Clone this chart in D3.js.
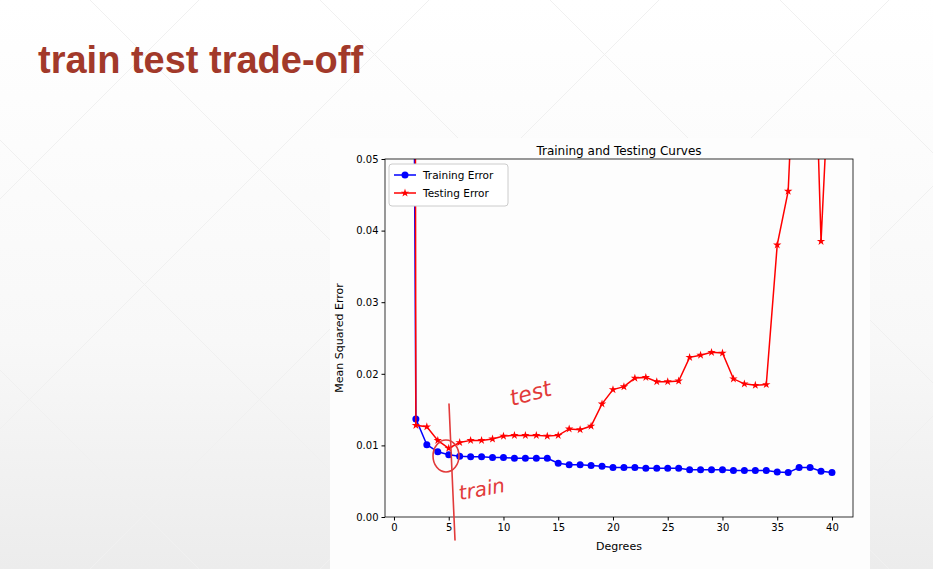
<!DOCTYPE html>
<html><head><meta charset="utf-8">
<script src="https://cdn.jsdelivr.net/npm/d3@7"></script>
<style>body{margin:0;background:#fff}</style>
</head><body>
<svg id="c" width="933" height="569"></svg>
<script>
// data
const degrees = d3.range(1, 41);
const trainErr = [0.3, 0.0137, 0.0101, 0.0091, 0.0087, 0.0085, 0.0084, 0.0084, 0.0083, 0.0083,
  0.0082, 0.0082, 0.0082, 0.0082, 0.0075, 0.0073, 0.0073, 0.0072, 0.0071, 0.0069,
  0.0069, 0.0069, 0.0068, 0.0068, 0.0068, 0.0068, 0.0066, 0.0066, 0.0066, 0.0066,
  0.0065, 0.0065, 0.0065, 0.0065, 0.0063, 0.0062, 0.0069, 0.0069, 0.0064, 0.0062];
const testErr = [1.0, 0.0128, 0.0126, 0.0107, 0.0096, 0.0104, 0.0107, 0.0107, 0.0109, 0.0113,
  0.0114, 0.0114, 0.0114, 0.0113, 0.0114, 0.0123, 0.0122, 0.0127, 0.0158, 0.0178,
  0.0182, 0.0194, 0.0195, 0.0189, 0.0189, 0.0190, 0.0223, 0.0226, 0.0230, 0.0229,
  0.0193, 0.0186, 0.0184, 0.0185, 0.0380, 0.0455, 0.08, 0.09, 0.0385, 0.07];
const xTicks = [0, 5, 10, 15, 20, 25, 30, 35, 40];
const yTicks = [0, 0.01, 0.02, 0.03, 0.04, 0.05];

const svg = d3.select("#c");
const defs = svg.append("defs");
const grad = defs.append("linearGradient").attr("id", "bg").attr("x1", 0).attr("y1", 0).attr("x2", 0).attr("y2", 1);
grad.append("stop").attr("offset", "0").attr("stop-color", "#ffffff");
grad.append("stop").attr("offset", "0.6").attr("stop-color", "#f8f8f8");
grad.append("stop").attr("offset", "1").attr("stop-color", "#ececec");
svg.append("rect").attr("width", 933).attr("height", 569).attr("fill", "url(#bg)");

// faint diagonal pattern
const bgLines = svg.append("g").attr("stroke", "#f0f0f0").attr("stroke-width", 1);
for (let k = -600; k < 1400; k += 230) {
  bgLines.append("line").attr("x1", k).attr("y1", 0).attr("x2", k + 569).attr("y2", 569);
  bgLines.append("line").attr("x1", k + 569).attr("y1", 0).attr("x2", k).attr("y2", 569);
}

svg.append("text").attr("x", 38).attr("y", 73)
  .attr("font-family", "Liberation Sans, Arial, sans-serif").attr("font-weight", "bold")
  .attr("font-size", 38).attr("fill", "#a2392a").text("train test trade-off");

// plot panel
svg.append("rect").attr("x", 330).attr("y", 138).attr("width", 540).attr("height", 431).attr("fill", "#fdfdfd");

const margin = {left: 385, right: 853, top: 159, bottom: 517};
const x = d3.scaleLinear().domain([-0.82, 41.92]).range([margin.left, margin.right]);
const y = d3.scaleLinear().domain([0, 0.05]).range([margin.bottom, margin.top]);

svg.append("text").attr("x", 619).attr("y", 155).attr("text-anchor", "middle")
  .attr("font-family", "DejaVu Sans").attr("font-size", 12).text("Training and Testing Curves");

const clip = defs.append("clipPath").attr("id", "clip");
clip.append("rect").attr("x", margin.left).attr("y", margin.top)
  .attr("width", margin.right - margin.left).attr("height", margin.bottom - margin.top);

const plot = svg.append("g").attr("clip-path", "url(#clip)");
const line = d3.line().x((d, i) => x(degrees[i])).y(d => y(d));

plot.append("path").datum(trainErr).attr("d", line).attr("fill", "none").attr("stroke", "#0000ff").attr("stroke-width", 1.5);
plot.append("g").selectAll("circle").data(trainErr).join("circle")
  .attr("cx", (d, i) => x(degrees[i])).attr("cy", d => y(d)).attr("r", 3.5).attr("fill", "#0000ff");

plot.append("path").datum(testErr).attr("d", line).attr("fill", "none").attr("stroke", "#ff0000").attr("stroke-width", 1.5);
const star = d3.symbol().type(d3.symbolStar).size(22);
plot.append("g").selectAll("path").data(testErr).join("path")
  .attr("transform", (d, i) => `translate(${x(degrees[i])},${y(d)})`).attr("d", star).attr("fill", "#ff0000");

const font = g => g.selectAll("text").attr("font-family", "DejaVu Sans").attr("font-size", 10).attr("fill", "#000");
svg.append("g").attr("transform", `translate(0,${margin.bottom})`)
  .call(d3.axisBottom(x).tickValues(xTicks).tickSize(3.5).tickPadding(3))
  .call(g => g.select(".domain").remove()).call(font);
svg.append("g").attr("transform", `translate(${margin.left},0)`)
  .call(d3.axisLeft(y).tickValues(yTicks).tickFormat(d3.format(".2f")).tickSize(3.5).tickPadding(3))
  .call(g => g.select(".domain").remove()).call(font);

svg.append("rect").attr("x", margin.left).attr("y", margin.top)
  .attr("width", margin.right - margin.left).attr("height", margin.bottom - margin.top)
  .attr("fill", "none").attr("stroke", "#000").attr("stroke-width", 0.8);

svg.append("text").attr("x", 619).attr("y", 550).attr("text-anchor", "middle")
  .attr("font-family", "DejaVu Sans").attr("font-size", 11).text("Degrees");
svg.append("text").attr("transform", `translate(343,${(margin.top + margin.bottom) / 2}) rotate(-90)`)
  .attr("text-anchor", "middle").attr("font-family", "DejaVu Sans").attr("font-size", 11).text("Mean Squared Error");

// legend
const lg = svg.append("g").attr("transform", "translate(389,164)");
lg.append("rect").attr("width", 119).attr("height", 42).attr("rx", 3).attr("fill", "#fff").attr("stroke", "#ccc");
lg.append("line").attr("x1", 5).attr("x2", 27).attr("y1", 11).attr("y2", 11).attr("stroke", "#0000ff").attr("stroke-width", 1.5);
lg.append("circle").attr("cx", 16).attr("cy", 11).attr("r", 3.5).attr("fill", "#0000ff");
lg.append("line").attr("x1", 5).attr("x2", 27).attr("y1", 29).attr("y2", 29).attr("stroke", "#ff0000").attr("stroke-width", 1.5);
lg.append("path").attr("transform", "translate(16,29)").attr("d", star).attr("fill", "#ff0000");
lg.append("text").attr("x", 34).attr("y", 15).attr("font-family", "DejaVu Sans").attr("font-size", 10.5).text("Training Error");
lg.append("text").attr("x", 34).attr("y", 33).attr("font-family", "DejaVu Sans").attr("font-size", 10.5).text("Testing Error");

// handwritten annotations
const ink = svg.append("g").attr("fill", "none").attr("stroke", "#e23a3a").attr("stroke-width", 1.6).attr("stroke-linecap", "round");
ink.append("path").attr("d", "M449,404 L455,540");
ink.append("ellipse").attr("cx", 446).attr("cy", 456).attr("rx", 13).attr("ry", 16);
svg.append("text").attr("x", 512).attr("y", 406).attr("transform", "rotate(-15,512,406)")
  .attr("font-family", "DejaVu Sans").attr("font-style", "italic").attr("font-size", 22).attr("fill", "#e23a3a").text("test");
svg.append("text").attr("x", 460).attr("y", 500).attr("transform", "rotate(-10,460,500)")
  .attr("font-family", "DejaVu Sans").attr("font-style", "italic").attr("font-size", 20).attr("fill", "#e23a3a").text("train");
</script>
</body></html>
